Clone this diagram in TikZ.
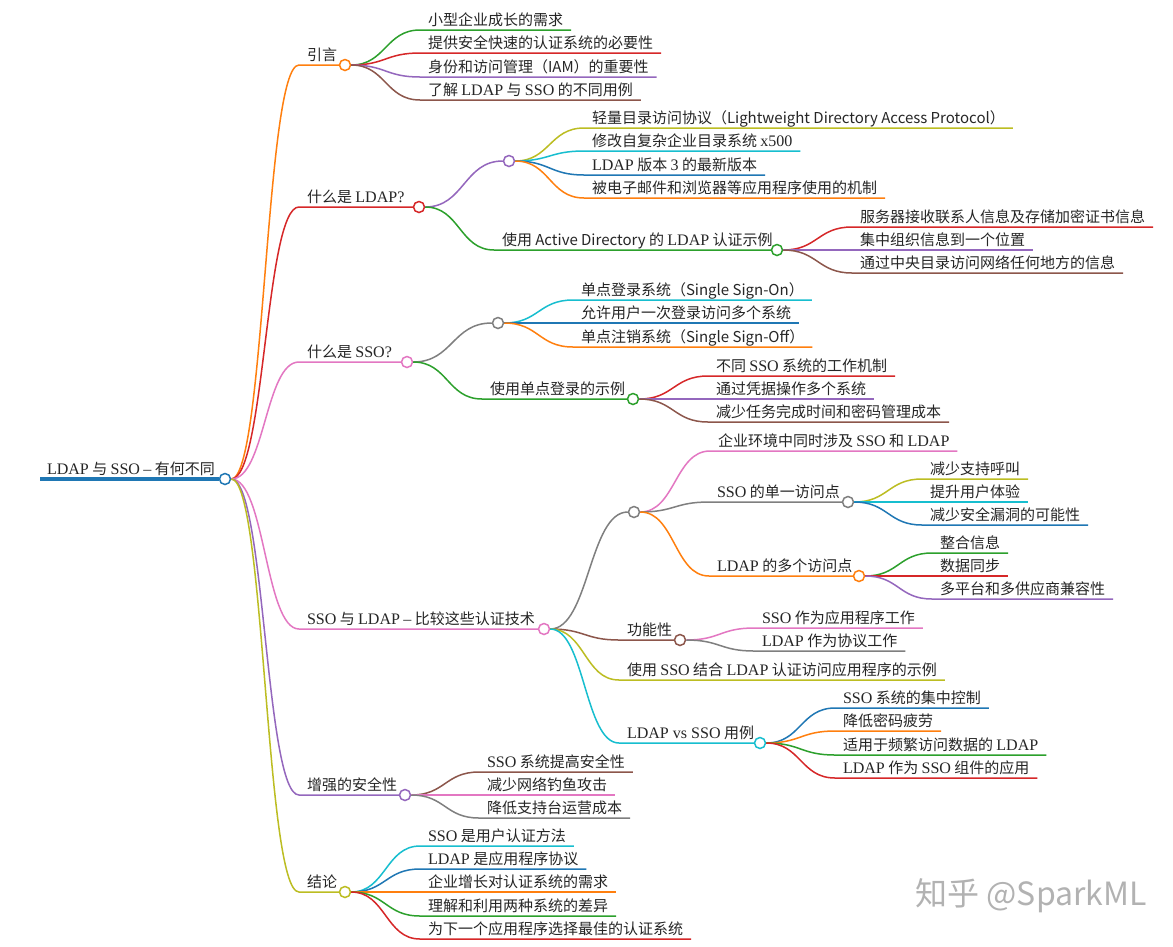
\documentclass[tikz,border=0pt]{standalone}
\usepackage{fontspec}
\setmainfont{Noto Sans CJK SC}
\newfontfamily\serifpart[Scale=1.07]{Liberation Serif}
\newcommand{\en}[1]{{\serifpart #1}}
\usepackage{tikz}
\usetikzlibrary{calc}
\definecolor{mmblue}{HTML}{1F77B4}
\definecolor{mmorange}{HTML}{FF7F0E}
\definecolor{mmgreen}{HTML}{2CA02C}
\definecolor{mmred}{HTML}{D62728}
\definecolor{mmpurple}{HTML}{9467BD}
\definecolor{mmbrown}{HTML}{8C564B}
\definecolor{mmpink}{HTML}{E377C2}
\definecolor{mmgray}{HTML}{7F7F7F}
\definecolor{mmolive}{HTML}{BCBD22}
\definecolor{mmcyan}{HTML}{17BECF}
\tikzset{
  mm-text/.style={anchor=south west, inner xsep=8pt, inner ysep=3pt, outer sep=0pt,
    text height=11pt, text depth=2pt, font=\fontsize{15}{18}\selectfont, text=black!85},
  mm-dot/.style={circle, draw=#1, fill=white, line width=1.5pt, inner sep=0pt,
    minimum size=11pt},
  mm-line/.style={draw=#1, line width=1.5pt},
  mm-branch/.style={to path={let \p1=(\tikztostart), \p2=(\tikztotarget) in
    .. controls ({(\x1+\x2)/2},\y1) and ({(\x1+\x2)/2},\y2) .. (\tikztotarget)}},
  mm-mark/.style={anchor=base west, font=\fontsize{32}{36}\selectfont, text=black!30}
}
\begin{document}
\begin{tikzpicture}[x=1pt,y=-1pt]
\fill[white] (0,0) rectangle (1173,946);
\useasboundingbox (0,0) rectangle (1173,946);

% root
\node[mm-text, inner xsep=7pt] (root) at (40,479) {\en{LDAP} 与 \en{SSO} \en{–} 有何不同};
\node[mm-dot=mmblue] (root-dot) at (225,479) {};
\draw[mmblue, line width=4pt] (root.south west) -- (root-dot.west);

% introduction
\node[mm-text] (intro) at (299,65) {引言};
\node[mm-dot=mmorange] (intro-dot) at (345,65) {};
\draw[mm-line=mmorange] (root-dot.east) to[mm-branch] (intro.south west) -- (intro-dot.west);
\foreach \yy/\col/\txt [count=\i] in {
  30/mmgreen/{小型企业成长的需求},
  53/mmred/{提供安全快速的认证系统的必要性},
  77/mmpurple/{身份和访问管理（IAM）的重要性},
  100/mmbrown/{了解 \en{LDAP} 与 \en{SSO} 的不同用例}}{
  \node[mm-text] (intro-\i) at (420,\yy) {\txt};
  \draw[mm-line=\col] (intro-dot.east) to[mm-branch] (intro-\i.south west) -- (intro-\i.south east);
}

% what is LDAP
\node[mm-text] (ldap) at (299,207) {什么是 \en{LDAP?}};
\node[mm-dot=mmred] (ldap-dot) at (419,207) {};
\draw[mm-line=mmred] (root-dot.east) to[mm-branch] (ldap.south west) -- (ldap-dot.west);
\node[mm-dot=mmpurple] (ldap-def-dot) at (509,161) {};
\draw[mm-line=mmpurple] (ldap-dot.east) to[mm-branch] (ldap-def-dot.west);
\foreach \yy/\col/\txt [count=\i] in {
  128/mmolive/{轻量目录访问协议（Lightweight Directory Access Protocol）},
  151/mmcyan/{修改自复杂企业目录系统 \en{x500}},
  175/mmblue/{\en{LDAP} 版本 \en{3} 的最新版本},
  198/mmorange/{被电子邮件和浏览器等应用程序使用的机制}}{
  \node[mm-text] (ldap-def-\i) at (584,\yy) {\txt};
  \draw[mm-line=\col] (ldap-def-dot.east) to[mm-branch] (ldap-def-\i.south west) -- (ldap-def-\i.south east);
}
\node[mm-text] (ldap-ad) at (494,250) {使用 Active Directory 的 \en{LDAP} 认证示例};
\node[mm-dot=mmgreen] (ldap-ad-dot) at (777,250) {};
\draw[mm-line=mmgreen] (ldap-dot.east) to[mm-branch] (ldap-ad.south west) -- (ldap-ad-dot.west);
\foreach \yy/\col/\txt [count=\i] in {
  227/mmred/{服务器接收联系人信息及存储加密证书信息},
  250/mmpurple/{集中组织信息到一个位置},
  273/mmbrown/{通过中央目录访问网络任何地方的信息}}{
  \node[mm-text] (ldap-ad-\i) at (852,\yy) {\txt};
  \draw[mm-line=\col] (ldap-ad-dot.east) to[mm-branch] (ldap-ad-\i.south west) -- (ldap-ad-\i.south east);
}

% what is SSO
\node[mm-text] (sso) at (299,362) {什么是 \en{SSO?}};
\node[mm-dot=mmpink] (sso-dot) at (407,362) {};
\draw[mm-line=mmpink] (root-dot.east) to[mm-branch] (sso.south west) -- (sso-dot.west);
\node[mm-dot=mmgray] (sso-def-dot) at (498,323) {};
\draw[mm-line=mmgray] (sso-dot.east) to[mm-branch] (sso-def-dot.west);
\foreach \yy/\col/\txt [count=\i] in {
  300/mmcyan/{单点登录系统（Single Sign-On）},
  323/mmblue/{允许用户一次登录访问多个系统},
  347/mmorange/{单点注销系统（Single Sign-Off）}}{
  \node[mm-text] (sso-def-\i) at (573,\yy) {\txt};
  \draw[mm-line=\col] (sso-def-dot.east) to[mm-branch] (sso-def-\i.south west) -- (sso-def-\i.south east);
}
\node[mm-text] (sso-ex) at (482,399) {使用单点登录的示例};
\node[mm-dot=mmgreen] (sso-ex-dot) at (633,399) {};
\draw[mm-line=mmgreen] (sso-dot.east) to[mm-branch] (sso-ex.south west) -- (sso-ex-dot.west);
\foreach \yy/\col/\txt [count=\i] in {
  376/mmred/{不同 \en{SSO} 系统的工作机制},
  399/mmpurple/{通过凭据操作多个系统},
  422/mmbrown/{减少任务完成时间和密码管理成本}}{
  \node[mm-text] (sso-ex-\i) at (708,\yy) {\txt};
  \draw[mm-line=\col] (sso-ex-dot.east) to[mm-branch] (sso-ex-\i.south west) -- (sso-ex-\i.south east);
}

% comparison
\node[mm-text] (cmp) at (299,629) {\en{SSO} 与 \en{LDAP} \en{–} 比较这些认证技术};
\node[mm-dot=mmpink] (cmp-dot) at (544,629) {};
\draw[mm-line=mmpink] (root-dot.east) to[mm-branch] (cmp.south west) -- (cmp-dot.west);
\node[mm-dot=mmgray] (cmp-acc-dot) at (634,512) {};
\draw[mm-line=mmgray] (cmp-dot.east) to[mm-branch] (cmp-acc-dot.west);
\node[mm-text] (cmp-acc-1) at (710,451) {企业环境中同时涉及 \en{SSO} 和 \en{LDAP}};
\draw[mm-line=mmpink] (cmp-acc-dot.east) to[mm-branch] (cmp-acc-1.south west) -- (cmp-acc-1.south east);
\node[mm-text] (cmp-single) at (709,502) {\en{SSO} 的单一访问点};
\node[mm-dot=mmgray] (cmp-single-dot) at (848,502) {};
\draw[mm-line=mmgray] (cmp-acc-dot.east) to[mm-branch] (cmp-single.south west) -- (cmp-single-dot.west);
\foreach \yy/\col/\txt [count=\i] in {
  479/mmolive/{减少支持呼叫},
  502/mmcyan/{提升用户体验},
  525/mmblue/{减少安全漏洞的可能性}}{
  \node[mm-text] (cmp-single-\i) at (922,\yy) {\txt};
  \draw[mm-line=\col] (cmp-single-dot.east) to[mm-branch] (cmp-single-\i.south west) -- (cmp-single-\i.south east);
}
\node[mm-text] (cmp-multi) at (709,576) {\en{LDAP} 的多个访问点};
\node[mm-dot=mmorange] (cmp-multi-dot) at (859,576) {};
\draw[mm-line=mmorange] (cmp-acc-dot.east) to[mm-branch] (cmp-multi.south west) -- (cmp-multi-dot.west);
\foreach \yy/\col/\txt [count=\i] in {
  553/mmgreen/{整合信息},
  576/mmred/{数据同步},
  599/mmpurple/{多平台和多供应商兼容性}}{
  \node[mm-text] (cmp-multi-\i) at (932,\yy) {\txt};
  \draw[mm-line=\col] (cmp-multi-dot.east) to[mm-branch] (cmp-multi-\i.south west) -- (cmp-multi-\i.south east);
}
\node[mm-text] (cmp-func) at (619,640) {功能性};
\node[mm-dot=mmbrown] (cmp-func-dot) at (680,640) {};
\draw[mm-line=mmbrown] (cmp-dot.east) to[mm-branch] (cmp-func.south west) -- (cmp-func-dot.west);
\foreach \yy/\col/\txt [count=\i] in {
  628/mmpink/{\en{SSO} 作为应用程序工作},
  651/mmgray/{\en{LDAP} 作为协议工作}}{
  \node[mm-text] (cmp-func-\i) at (754,\yy) {\txt};
  \draw[mm-line=\col] (cmp-func-dot.east) to[mm-branch] (cmp-func-\i.south west) -- (cmp-func-\i.south east);
}
\node[mm-text] (cmp-ex) at (619,680) {使用 \en{SSO} 结合 \en{LDAP} 认证访问应用程序的示例};
\draw[mm-line=mmolive] (cmp-dot.east) to[mm-branch] (cmp-ex.south west) -- (cmp-ex.south east);
\node[mm-text] (cmp-use) at (619,743) {\en{LDAP vs SSO} 用例};
\node[mm-dot=mmcyan] (cmp-use-dot) at (760,743) {};
\draw[mm-line=mmcyan] (cmp-dot.east) to[mm-branch] (cmp-use.south west) -- (cmp-use-dot.west);
\foreach \yy/\col/\txt [count=\i] in {
  708/mmblue/{\en{SSO} 系统的集中控制},
  731/mmorange/{降低密码疲劳},
  755/mmgreen/{适用于频繁访问数据的 \en{LDAP}},
  778/mmred/{\en{LDAP} 作为 \en{SSO} 组件的应用}}{
  \node[mm-text] (cmp-use-\i) at (835,\yy) {\txt};
  \draw[mm-line=\col] (cmp-use-dot.east) to[mm-branch] (cmp-use-\i.south west) -- (cmp-use-\i.south east);
}

% security
\node[mm-text] (sec) at (299,795) {增强的安全性};
\node[mm-dot=mmpurple] (sec-dot) at (405,795) {};
\draw[mm-line=mmpurple] (root-dot.east) to[mm-branch] (sec.south west) -- (sec-dot.west);
\foreach \yy/\col/\txt [count=\i] in {
  772/mmbrown/{\en{SSO} 系统提高安全性},
  795/mmpink/{减少网络钓鱼攻击},
  818/mmgray/{降低支持台运营成本}}{
  \node[mm-text] (sec-\i) at (479,\yy) {\txt};
  \draw[mm-line=\col] (sec-dot.east) to[mm-branch] (sec-\i.south west) -- (sec-\i.south east);
}

% conclusion
\node[mm-text] (concl) at (299,892) {结论};
\node[mm-dot=mmolive] (concl-dot) at (345,892) {};
\draw[mm-line=mmolive] (root-dot.east) to[mm-branch] (concl.south west) -- (concl-dot.west);
\foreach \yy/\col/\txt [count=\i] in {
  846/mmcyan/{\en{SSO} 是用户认证方法},
  869/mmblue/{\en{LDAP} 是应用程序协议},
  892/mmorange/{企业增长对认证系统的需求},
  916/mmgreen/{理解和利用两种系统的差异},
  939/mmred/{为下一个应用程序选择最佳的认证系统}}{
  \node[mm-text] (concl-\i) at (420,\yy) {\txt};
  \draw[mm-line=\col] (concl-dot.east) to[mm-branch] (concl-\i.south west) -- (concl-\i.south east);
}

\node[mm-mark] (mark) at (912,905) {知乎 @SparkML};
\end{tikzpicture}
\end{document}
